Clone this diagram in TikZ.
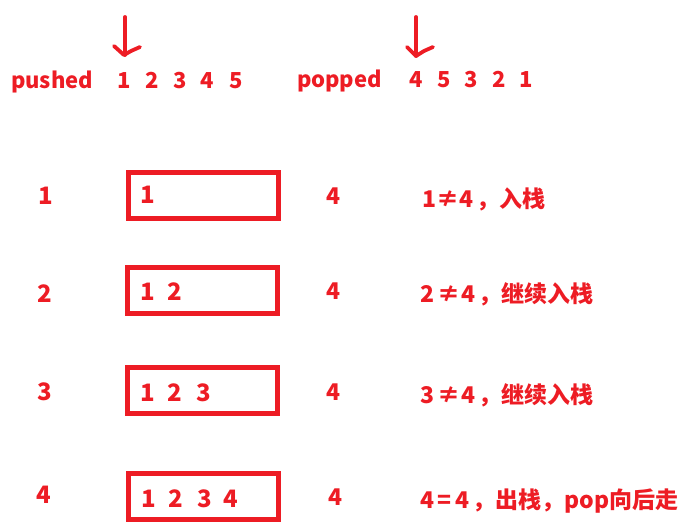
\documentclass[tikz,border=0pt]{standalone}
\usepackage{fontspec}
\newfontfamily\cjk{Noto Sans CJK SC}
\definecolor{pred}{RGB}{237,28,36}
\tikzset{
  txt/.style={inner sep=0pt, outer sep=0pt, anchor=base west, text=pred, font=\cjk\bfseries\fontsize{#1}{#1}\selectfont},
  txt/.default=22,
  stackbox/.style={draw=pred, line width=5pt},
  pen/.style={draw=pred, line width=3.8pt, line cap=round, line join=round}
}
\begin{document}
\begin{tikzpicture}[x=1pt,y=-1pt]
\useasboundingbox (0,0) rectangle (698,526);
% top row
\node[txt] (pushed) at (11,89) {pushed};
\node[txt] (p1) at (117,89) {1};
\node[txt] (p2) at (145,89) {2};
\node[txt] (p3) at (173,89) {3};
\node[txt] (p4) at (200,89) {4};
\node[txt] (p5) at (229,89) {5};
\node[txt] (popped) at (297,88) {popped};
\node[txt] (q1) at (409,88) {4};
\node[txt] (q2) at (437,88) {5};
\node[txt] (q3) at (464,88) {3};
\node[txt] (q4) at (492,88) {2};
\node[txt] (q5) at (519,88) {1};
% pointer arrows
\draw[pen] (125,17) -- (125,55);
\draw[pen] (114,46) -- (124,55) -- (131,51) -- (140,47);
\draw[pen] (416,17) -- (416,56);
\draw[pen] (407,47) -- (416,56) -- (424,51) -- (433,47);
% left column
\node[txt=24] (l1) at (38,205) {1};
\node[txt=24] (l2) at (37,302) {2};
\node[txt=24] (l3) at (37,400) {3};
\node[txt=24] (l4) at (36,503) {4};
% boxes
\draw[stackbox] (128.5,172.5) rectangle (278.5,218.5);
\draw[stackbox] (127.5,267.5) rectangle (277.5,313.5);
\draw[stackbox] (127.5,367.5) rectangle (277.5,413.5);
\draw[stackbox] (128.5,473.5) rectangle (278.5,519.5);
\node[txt=24] (b1a) at (140,204) {1};
\node[txt=24] (b2a) at (140,301) {1};
\node[txt=24] (b2b) at (167,301) {2};
\node[txt=24] (b3a) at (140,401) {1};
\node[txt=24] (b3b) at (167,401) {2};
\node[txt=24] (b3c) at (196,401) {3};
\node[txt=24] (b4a) at (141,507) {1};
\node[txt=24] (b4b) at (168,507) {2};
\node[txt=24] (b4c) at (197,507) {3};
\node[txt=24] (b4d) at (223,507) {4};
% middle column
\node[txt=23] (m1) at (326,205) {4};
\node[txt=23] (m2) at (326,300) {4};
\node[txt=23] (m3) at (326,400) {4};
\node[txt=23] (m4) at (328,505) {4};
% right column
\node[txt=23] (r1) at (422,208) {1≠4\hspace{3pt}，入栈};
\node[txt=23] (r2) at (420,303) {2\,≠\hspace{1pt}4\hspace{3pt}，继续入栈};
\node[txt=23] (r3) at (420,403) {3\,≠\hspace{1pt}4\hspace{3pt}，继续入栈};
\node[txt=23] (r4) at (420,508) {4\,=\,4\hspace{3pt}，出栈，pop向后走};
\end{tikzpicture}
\end{document}
